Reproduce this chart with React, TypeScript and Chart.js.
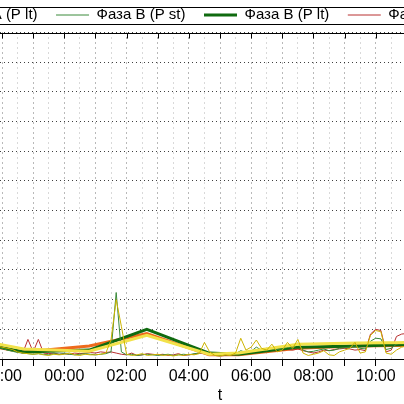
import React, { useEffect, useRef } from 'react';
import { Chart, registerables } from 'chart.js';

Chart.register(...registerables);

// time axis in hours relative to 00:00 (negative = previous evening)
const AXIS_MIN_HOUR = -9;
const AXIS_MAX_HOUR = 19;
const ST_START_HOUR = -2.5; // 21:30
const ST_STEP_HOURS = 1 / 6; // 10 minutes

const seriesNames = [
  'Фаза А (P st)',
  'Фаза А (P lt)',
  'Фаза В (P st)',
  'Фаза В (P lt)',
  'Фаза С (P st)',
  'Фаза С (P lt)',
];

// P st, every 10 minutes from 21:30
const phaseAst = [
  0.22, 0.24, 0.22,
  0.20, 0.18, 0.16, 0.12, 0.10, 0.09,
  0.08, 0.09, 0.07, 0.06, 0.08, 0.07,
  0.08, 0.10, 0.07, 0.06, 0.08, 0.07,
  0.07, 0.08, 0.10, 0.32, 1.00, 0.55,
  0.08, 0.06, 0.07, 0.09, 0.06, 0.07,
  0.08, 0.06, 0.07, 0.05, 0.07, 0.06,
  0.08, 0.07, 0.09, 0.28, 0.12, 0.06,
  0.05, 0.07, 0.06, 0.10, 0.35, 0.15,
  0.20, 0.32, 0.18, 0.15, 0.25, 0.12,
  0.15, 0.28, 0.18, 0.33, 0.10, 0.06,
  0.08, 0.10, 0.14, 0.07, 0.06, 0.12,
  0.15, 0.18, 0.28, 0.10, 0.12, 0.40,
  0.48, 0.46, 0.10, 0.08, 0.15, 0.20,
  0.22, 0.20, 0.18, 0.22,
];

const phaseBst = [
  0.20, 0.21, 0.19,
  0.18, 0.15, 0.13, 0.11, 0.10, 0.09,
  0.08, 0.09, 0.08, 0.07, 0.09, 0.08,
  0.09, 0.08, 0.07, 0.08, 0.09, 0.08,
  0.07, 0.08, 0.09, 0.12, 1.12, 0.12,
  0.07, 0.08, 0.06, 0.07, 0.08, 0.07,
  0.06, 0.07, 0.08, 0.06, 0.07, 0.08,
  0.07, 0.09, 0.10, 0.12, 0.09, 0.07,
  0.06, 0.07, 0.08, 0.09, 0.14, 0.11,
  0.13, 0.20, 0.15, 0.14, 0.18, 0.16,
  0.17, 0.20, 0.18, 0.25, 0.15, 0.12,
  0.13, 0.15, 0.17, 0.14, 0.15, 0.18,
  0.19, 0.20, 0.22, 0.18, 0.17, 0.30,
  0.35, 0.34, 0.16, 0.18, 0.25, 0.28,
  0.30, 0.28, 0.26, 0.25,
];

const phaseCst = [
  0.17, 0.18, 0.17,
  0.18, 0.16, 0.15, 0.12, 0.10, 0.33,
  0.12, 0.33, 0.10, 0.09, 0.10, 0.08,
  0.09, 0.08, 0.10, 0.09, 0.10, 0.11,
  0.10, 0.12, 0.11, 0.12, 0.10, 0.08,
  0.07, 0.10, 0.06, 0.07, 0.09, 0.08,
  0.07, 0.08, 0.06, 0.07, 0.09, 0.06,
  0.07, 0.08, 0.10, 0.09, 0.08, 0.06,
  0.05, 0.06, 0.08, 0.07, 0.10, 0.12,
  0.10, 0.13, 0.12, 0.14, 0.15, 0.13,
  0.15, 0.16, 0.15, 0.17, 0.14, 0.12,
  0.10, 0.12, 0.15, 0.14, 0.16, 0.17,
  0.18, 0.17, 0.15, 0.16, 0.14, 0.42,
  0.50, 0.48, 0.12, 0.15, 0.38, 0.42,
  0.43, 0.40, 0.38, 0.35,
];

// P lt points
const ltHours = [-2.4, -1.3, 0.8, 2.65, 4.65, 5.6, 7.5, 9.4, 11.3];
const phaseAlt = [0.28, 0.17, 0.13, 0.40, 0.08, 0.10, 0.25, 0.27, 0.28];
const phaseBlt = [0.23, 0.12, 0.15, 0.50, 0.10, 0.08, 0.20, 0.22, 0.25];
const phaseClt = [0.22, 0.12, 0.22, 0.43, 0.07, 0.07, 0.18, 0.22, 0.23];

const seriesColors = ['#cdb400', '#f2e24a', '#3a8a3a', '#0f6a0f', '#b83030', '#ee6a1c'];

const stPoints = (vals: number[]) =>
  vals.map((v, i) => ({ x: ST_START_HOUR + i * ST_STEP_HOURS, y: v }));
const ltPoints = (vals: number[]) => vals.map((v, i) => ({ x: ltHours[i], y: v }));

const isWhole = (v: number) => Math.abs(v - Math.round(v)) < 1e-6;

const topFrame = {
  id: 'topFrame',
  afterDraw(chart: any) {
    const { ctx, chartArea, scales } = chart;
    const x = scales.x;
    ctx.save();
    ctx.strokeStyle = '#000';
    ctx.lineWidth = 1;
    ctx.beginPath();
    const ty = Math.round(chartArea.top) + 0.5;
    ctx.moveTo(chartArea.left, ty);
    ctx.lineTo(chartArea.right, ty);
    for (let h = Math.ceil(x.min); h <= x.max; h++) {
      const px = Math.round(x.getPixelForValue(h)) + 0.5;
      ctx.moveTo(px, ty);
      ctx.lineTo(px, ty + 5);
    }
    ctx.stroke();
    // legend frame
    const lg = chart.legend;
    if (lg && lg.legendHitBoxes && lg.legendHitBoxes.length) {
      const hb = lg.legendHitBoxes[0];
      const cy = hb.top + hb.height / 2;
      ctx.strokeRect(0.5, Math.round(cy) - 8 + 0.5, chart.width - 1, 17);
    }
    ctx.restore();
  },
};

export default function App() {
  const ref = useRef<HTMLCanvasElement>(null);

  useEffect(() => {
    if (!ref.current) return;
    Chart.defaults.font.family = "'Liberation Sans', Arial, sans-serif";
    Chart.defaults.color = '#000';
    const stSets = [phaseAst, phaseBst, phaseCst];
    const ltSets = [phaseAlt, phaseBlt, phaseClt];
    const datasets = seriesNames.map((name, k) => {
      const phase = Math.floor(k / 2);
      const isLt = k % 2 === 1;
      return {
        label: name,
        data: isLt ? ltPoints(ltSets[phase]) : stPoints(stSets[phase]),
        borderColor: seriesColors[k],
        backgroundColor: seriesColors[k],
        borderWidth: isLt ? 3 : 1,
        pointRadius: 0,
        tension: 0,
        fill: false,
      };
    });

    const chart = new Chart(ref.current, {
      type: 'line',
      data: { datasets },
      plugins: [topFrame],
      options: {
        animation: false,
        responsive: false,
        layout: { padding: { left: 0, right: 0, top: -11, bottom: 0 } },
        plugins: {
          tooltip: { enabled: false },
          legend: {
            position: 'top',
            labels: {
              usePointStyle: true,
              pointStyle: 'line',
              pointStyleWidth: 33,
              padding: 18.5,
              color: '#000',
              font: { size: 15 },
            },
          },
        },
        scales: {
          x: {
            type: 'linear',
            min: AXIS_MIN_HOUR,
            max: AXIS_MAX_HOUR,
            ticks: {
              stepSize: 0.5,
              maxTicksLimit: 200,
              autoSkip: false,
              maxRotation: 0,
              padding: 3,
              color: '#000',
              font: { size: 16, lineHeight: 1 },
              callback: (v: any) => {
                const h = Number(v);
                if (!isWhole(h)) return '';
                const r = Math.round(h);
                if (r % 2 !== 0 || r <= AXIS_MIN_HOUR || r >= AXIS_MAX_HOUR) return '';
                const hh = ((r % 24) + 24) % 24;
                return String(hh).padStart(2, '0') + ':00';
              },
            },
            grid: {
              drawTicks: true,
              tickLength: 7,
              color: (c: any) =>
                c.tick && isWhole(c.tick.value) ? 'rgba(0,0,0,0.55)' : 'rgba(0,0,0,0.3)',
              tickColor: (c: any) => (c.tick && isWhole(c.tick.value) ? '#000' : 'rgba(0,0,0,0)'),
            },
            border: { display: true, color: '#000', width: 1, dash: [1, 4] },
            title: { display: true, text: 't', color: '#000', font: { size: 16, lineHeight: 1 }, padding: 0 },
          },
          y: {
            min: 0,
            max: 5.5,
            afterFit: (s: any) => {
              s.width = 56;
            },
            ticks: { display: false, stepSize: 0.5, maxTicksLimit: 50 },
            grid: { drawTicks: false, color: 'rgba(0,0,0,0.75)' },
            border: { display: false, dash: [1, 3] },
          },
        },
      },
    });
    return () => chart.destroy();
  }, []);

  return (
    <div style={{ position: 'fixed', left: -272, top: 0, width: 931, height: 404, background: '#fff' }}>
      <canvas ref={ref} width={931} height={404} style={{ display: 'block' }} />
    </div>
  );
}
